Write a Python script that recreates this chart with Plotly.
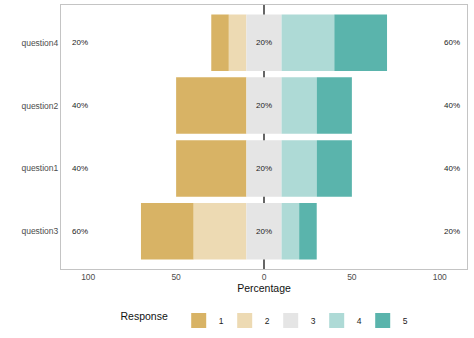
import plotly.graph_objects as go

questions = ["question3", "question1", "question2", "question4"]
levels = ["1", "2", "3", "4", "5"]
colors = ["#D8B365", "#EDDAB3", "#E5E5E5", "#AEDAD6", "#5AB4AC"]
# percentages per level for each question
v1 = [30, 40, 40, 10]
v2 = [30, 0, 0, 10]
v3 = [20, 20, 20, 20]
v4 = [10, 20, 20, 30]
v5 = [10, 20, 20, 30]
tick_vals = [-100, -50, 0, 50, 100]
tick_text = ["100", "50", "0", "50", "100"]

fig = go.Figure()
half = [n / 2 for n in v3]
series = {
    "1": ([-a for a in v1], [-(h + b) for h, b in zip(half, v2)]),
    "2": ([-b for b in v2], [-h for h in half]),
    "3": (v3, [-h for h in half]),
    "4": (v4, half),
    "5": (v5, [h + d for h, d in zip(half, v4)]),
}
for lvl, col in zip(levels, colors):
    lengths, bases = series[lvl]
    fig.add_trace(go.Bar(
        y=questions, x=lengths, base=bases, orientation="h",
        marker=dict(color=col, line=dict(width=0)), width=0.9,
        name=lvl, showlegend=False, hoverinfo="skip"))
# legend keys (square swatches)
for lvl, col in zip(levels, colors):
    fig.add_trace(go.Scatter(
        x=[None], y=[None], mode="markers", name=lvl,
        marker=dict(symbol="square", size=15, color=col, line=dict(width=0)),
        showlegend=True, hoverinfo="skip"))

low = [a + b for a, b in zip(v1, v2)]
high = [a + b for a, b in zip(v4, v5)]
font_lbl = dict(family="Liberation Sans, Arial, sans-serif", size=8, color="#222222")
for q, lo, ne, hi in zip(questions, low, v3, high):
    fig.add_annotation(x=-104.5, y=q, text=f"{lo}%", showarrow=False, font=font_lbl)
    fig.add_annotation(x=0, y=q, text=f"{ne}%", showarrow=False, font=font_lbl)
    fig.add_annotation(x=107, y=q, text=f"{hi}%", showarrow=False, font=font_lbl)

fig.add_shape(type="line", xref="x", yref="paper", x0=0, x1=0, y0=0, y1=1,
              line=dict(color="black", width=1.2), layer="below")

fig.update_layout(
    width=474, height=338,
    margin=dict(l=61, r=7, t=5, b=69),
    paper_bgcolor="white", plot_bgcolor="white",
    barmode="overlay",
    font=dict(family="Liberation Sans, Arial, sans-serif", color="#222222"),
    xaxis=dict(range=[-115.5, 115.5], tickvals=tick_vals, ticktext=tick_text,
               showgrid=False, zeroline=False, showline=True, mirror=True,
               linecolor="#C4C4C4", linewidth=1, ticks="",
               tickfont=dict(size=8.5, color="#4D4D4D"),
               title=dict(text="Percentage", font=dict(size=10.5, color="#111111"), standoff=2)),
    yaxis=dict(categoryorder="array", categoryarray=questions, range=[-0.6, 3.6],
               showgrid=False, zeroline=False, showline=True, mirror=True,
               linecolor="#C4C4C4", linewidth=1, ticks="",
               tickfont=dict(size=8.5, color="#4D4D4D")),
    legend=dict(orientation="h", x=0.5, xanchor="center",
                yref="container", y=0.052, yanchor="middle",
                title=dict(text="Response ", side="left", font=dict(size=10.5, color="#111111")),
                font=dict(size=8.5, color="#222222"), itemwidth=30,
                entrywidth=1, entrywidthmode="pixels", tracegroupgap=0,
                traceorder="normal"),
)

fig.write_html("out.html")
